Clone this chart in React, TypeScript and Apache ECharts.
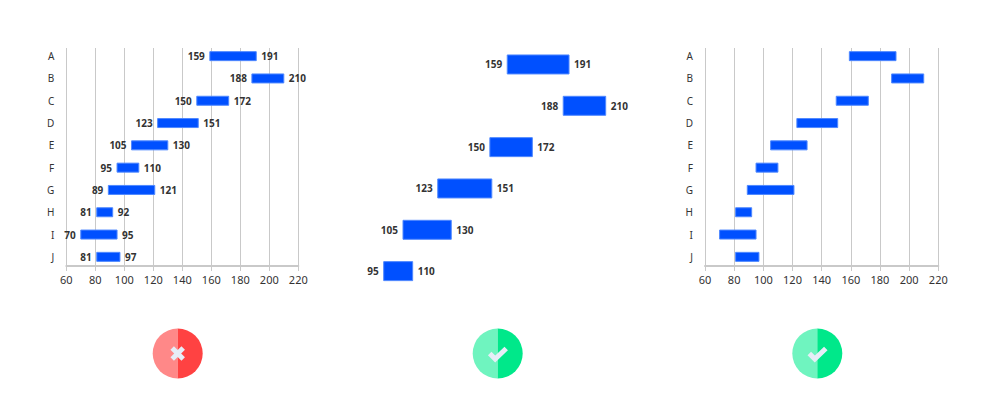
import React, { useEffect, useRef } from "react";
import * as echarts from "echarts";

const categories = ["A", "B", "C", "D", "E", "F", "G", "H", "I", "J"];
const startValues = [159, 188, 150, 123, 105, 95, 89, 81, 70, 81];
const endValues = [191, 210, 172, 151, 130, 110, 121, 92, 95, 97];
const middleCount = 6;
const axisMin = 60;
const axisMax = 220;
const axisStep = 20;

const FONT = "Noto Sans";
const BAR_FILL = "#0050ff";
const BAR_STROKE = "#4f88ff";
const TEXT = "#333333";
const LINE = "#c9c9c9";

function makeRender(barH: number, showLabels: boolean) {
  return (params: any, api: any) => {
    const yi = api.value(0);
    const s = api.value(1);
    const e = api.value(2);
    const p0 = api.coord([s, yi]);
    const p1 = api.coord([e, yi]);
    const children: any[] = [
      {
        type: "rect",
        shape: { x: p0[0], y: p0[1] - barH / 2, width: p1[0] - p0[0], height: barH },
        style: { fill: BAR_FILL, stroke: BAR_STROKE, lineWidth: 1 },
      },
    ];
    if (showLabels) {
      children.push({
        type: "text",
        style: {
          text: String(s),
          x: p0[0] - 5,
          y: p0[1],
          align: "right",
          verticalAlign: "middle",
          fill: TEXT,
          font: `bold 10px "${FONT}"`,
        },
      });
      children.push({
        type: "text",
        style: {
          text: String(e),
          x: p1[0] + 5,
          y: p1[1],
          align: "left",
          verticalAlign: "middle",
          fill: TEXT,
          font: `bold 10px "${FONT}"`,
        },
      });
    }
    return { type: "group", children };
  };
}

function visibleX(gridIndex: number) {
  return {
    type: "value",
    gridIndex,
    min: axisMin,
    max: axisMax,
    interval: axisStep,
    axisLine: { show: true, lineStyle: { color: LINE, width: 2 } },
    axisTick: { show: true, length: 5, lineStyle: { color: LINE, width: 1 } },
    splitLine: { show: true, lineStyle: { color: LINE, width: 1 } },
    axisLabel: { color: TEXT, fontSize: 11, fontFamily: FONT, margin: 8 },
  };
}

function hiddenX(gridIndex: number, min: number, max: number) {
  return { type: "value", gridIndex, min, max, show: false };
}

function catY(gridIndex: number, data: string[], showLabels: boolean) {
  return {
    type: "category",
    gridIndex,
    data,
    inverse: true,
    show: showLabels,
    axisLine: { show: false },
    axisTick: { show: false },
    splitLine: { show: false },
    axisLabel: { show: showLabels, color: TEXT, fontSize: 10, fontFamily: FONT, margin: 12 },
  };
}

function rows(n: number) {
  return categories.slice(0, n).map((_, i) => [i, startValues[i], endValues[i]]);
}

function icon(cx: number, cy: number, good: boolean) {
  const light = good ? "#6ff4bf" : "#ff8888";
  const dark = good ? "#00e88a" : "#ff4242";
  const mark = "#e6edf7";
  const children: any[] = [
    { type: "sector", shape: { cx, cy, r0: 0, r: 25, startAngle: Math.PI / 2, endAngle: (3 * Math.PI) / 2, clockwise: true }, style: { fill: light } },
    { type: "sector", shape: { cx, cy, r0: 0, r: 25, startAngle: -Math.PI / 2, endAngle: Math.PI / 2, clockwise: true }, style: { fill: dark } },
  ];
  if (good) {
    children.push({
      type: "polyline",
      shape: { points: [[cx - 8, cy], [cx - 2.5, cy + 5.5], [cx + 8.5, cy - 5]] },
      style: { stroke: mark, lineWidth: 5, fill: null, lineCap: "butt", lineJoin: "miter" },
    });
  } else {
    children.push(
      { type: "line", shape: { x1: cx - 5.5, y1: cy - 5.5, x2: cx + 5.5, y2: cy + 5.5 }, style: { stroke: mark, lineWidth: 5 } },
      { type: "line", shape: { x1: cx + 5.5, y1: cy - 5.5, x2: cx - 5.5, y2: cy + 5.5 }, style: { stroke: mark, lineWidth: 5 } }
    );
  }
  return { type: "group", children };
}

export default function App() {
  const ref = useRef<HTMLDivElement>(null);
  useEffect(() => {
    if (!ref.current) return;
    const chart = echarts.init(ref.current, undefined, { renderer: "svg" });
    const option: any = {
      animation: false,
      backgroundColor: "#ffffff",
      textStyle: { fontFamily: FONT },
      grid: [
        { left: 66.3, right: 701.7, top: 48, height: 218 },
        { left: 66.3, right: 701.7, top: 45, height: 223 },
        { left: 383.7, right: 394.3, top: 43.8, height: 248 },
        { left: 705, right: 61.7, top: 48, height: 218 },
        { left: 705, right: 61.7, top: 45, height: 223 },
      ],
      xAxis: [
        visibleX(0),
        hiddenX(1, axisMin, axisMax),
        hiddenX(2, 95, 210),
        visibleX(3),
        hiddenX(4, axisMin, axisMax),
      ],
      yAxis: [
        catY(0, categories, false),
        catY(1, categories, true),
        catY(2, categories.slice(0, middleCount), false),
        catY(3, categories, false),
        catY(4, categories, true),
      ],
      series: [
        {
          type: "custom",
          xAxisIndex: 1,
          yAxisIndex: 1,
          renderItem: makeRender(9, true),
          encode: { x: [1, 2], y: 0 },
          data: rows(categories.length),
        },
        {
          type: "custom",
          xAxisIndex: 2,
          yAxisIndex: 2,
          renderItem: makeRender(19, true),
          encode: { x: [1, 2], y: 0 },
          data: rows(middleCount),
        },
        {
          type: "custom",
          xAxisIndex: 4,
          yAxisIndex: 4,
          renderItem: makeRender(9, false),
          encode: { x: [1, 2], y: 0 },
          data: rows(categories.length),
        },
      ],
      graphic: [icon(177.7, 353.5, false), icon(497.7, 353.5, true), icon(817.3, 353.5, true)],
    };
    chart.setOption(option);
    return () => chart.dispose();
  }, []);
  return (
    <div
      ref={ref}
      style={{ position: "absolute", left: 0, top: 0, width: 1000, height: 420 }}
    />
  );
}
